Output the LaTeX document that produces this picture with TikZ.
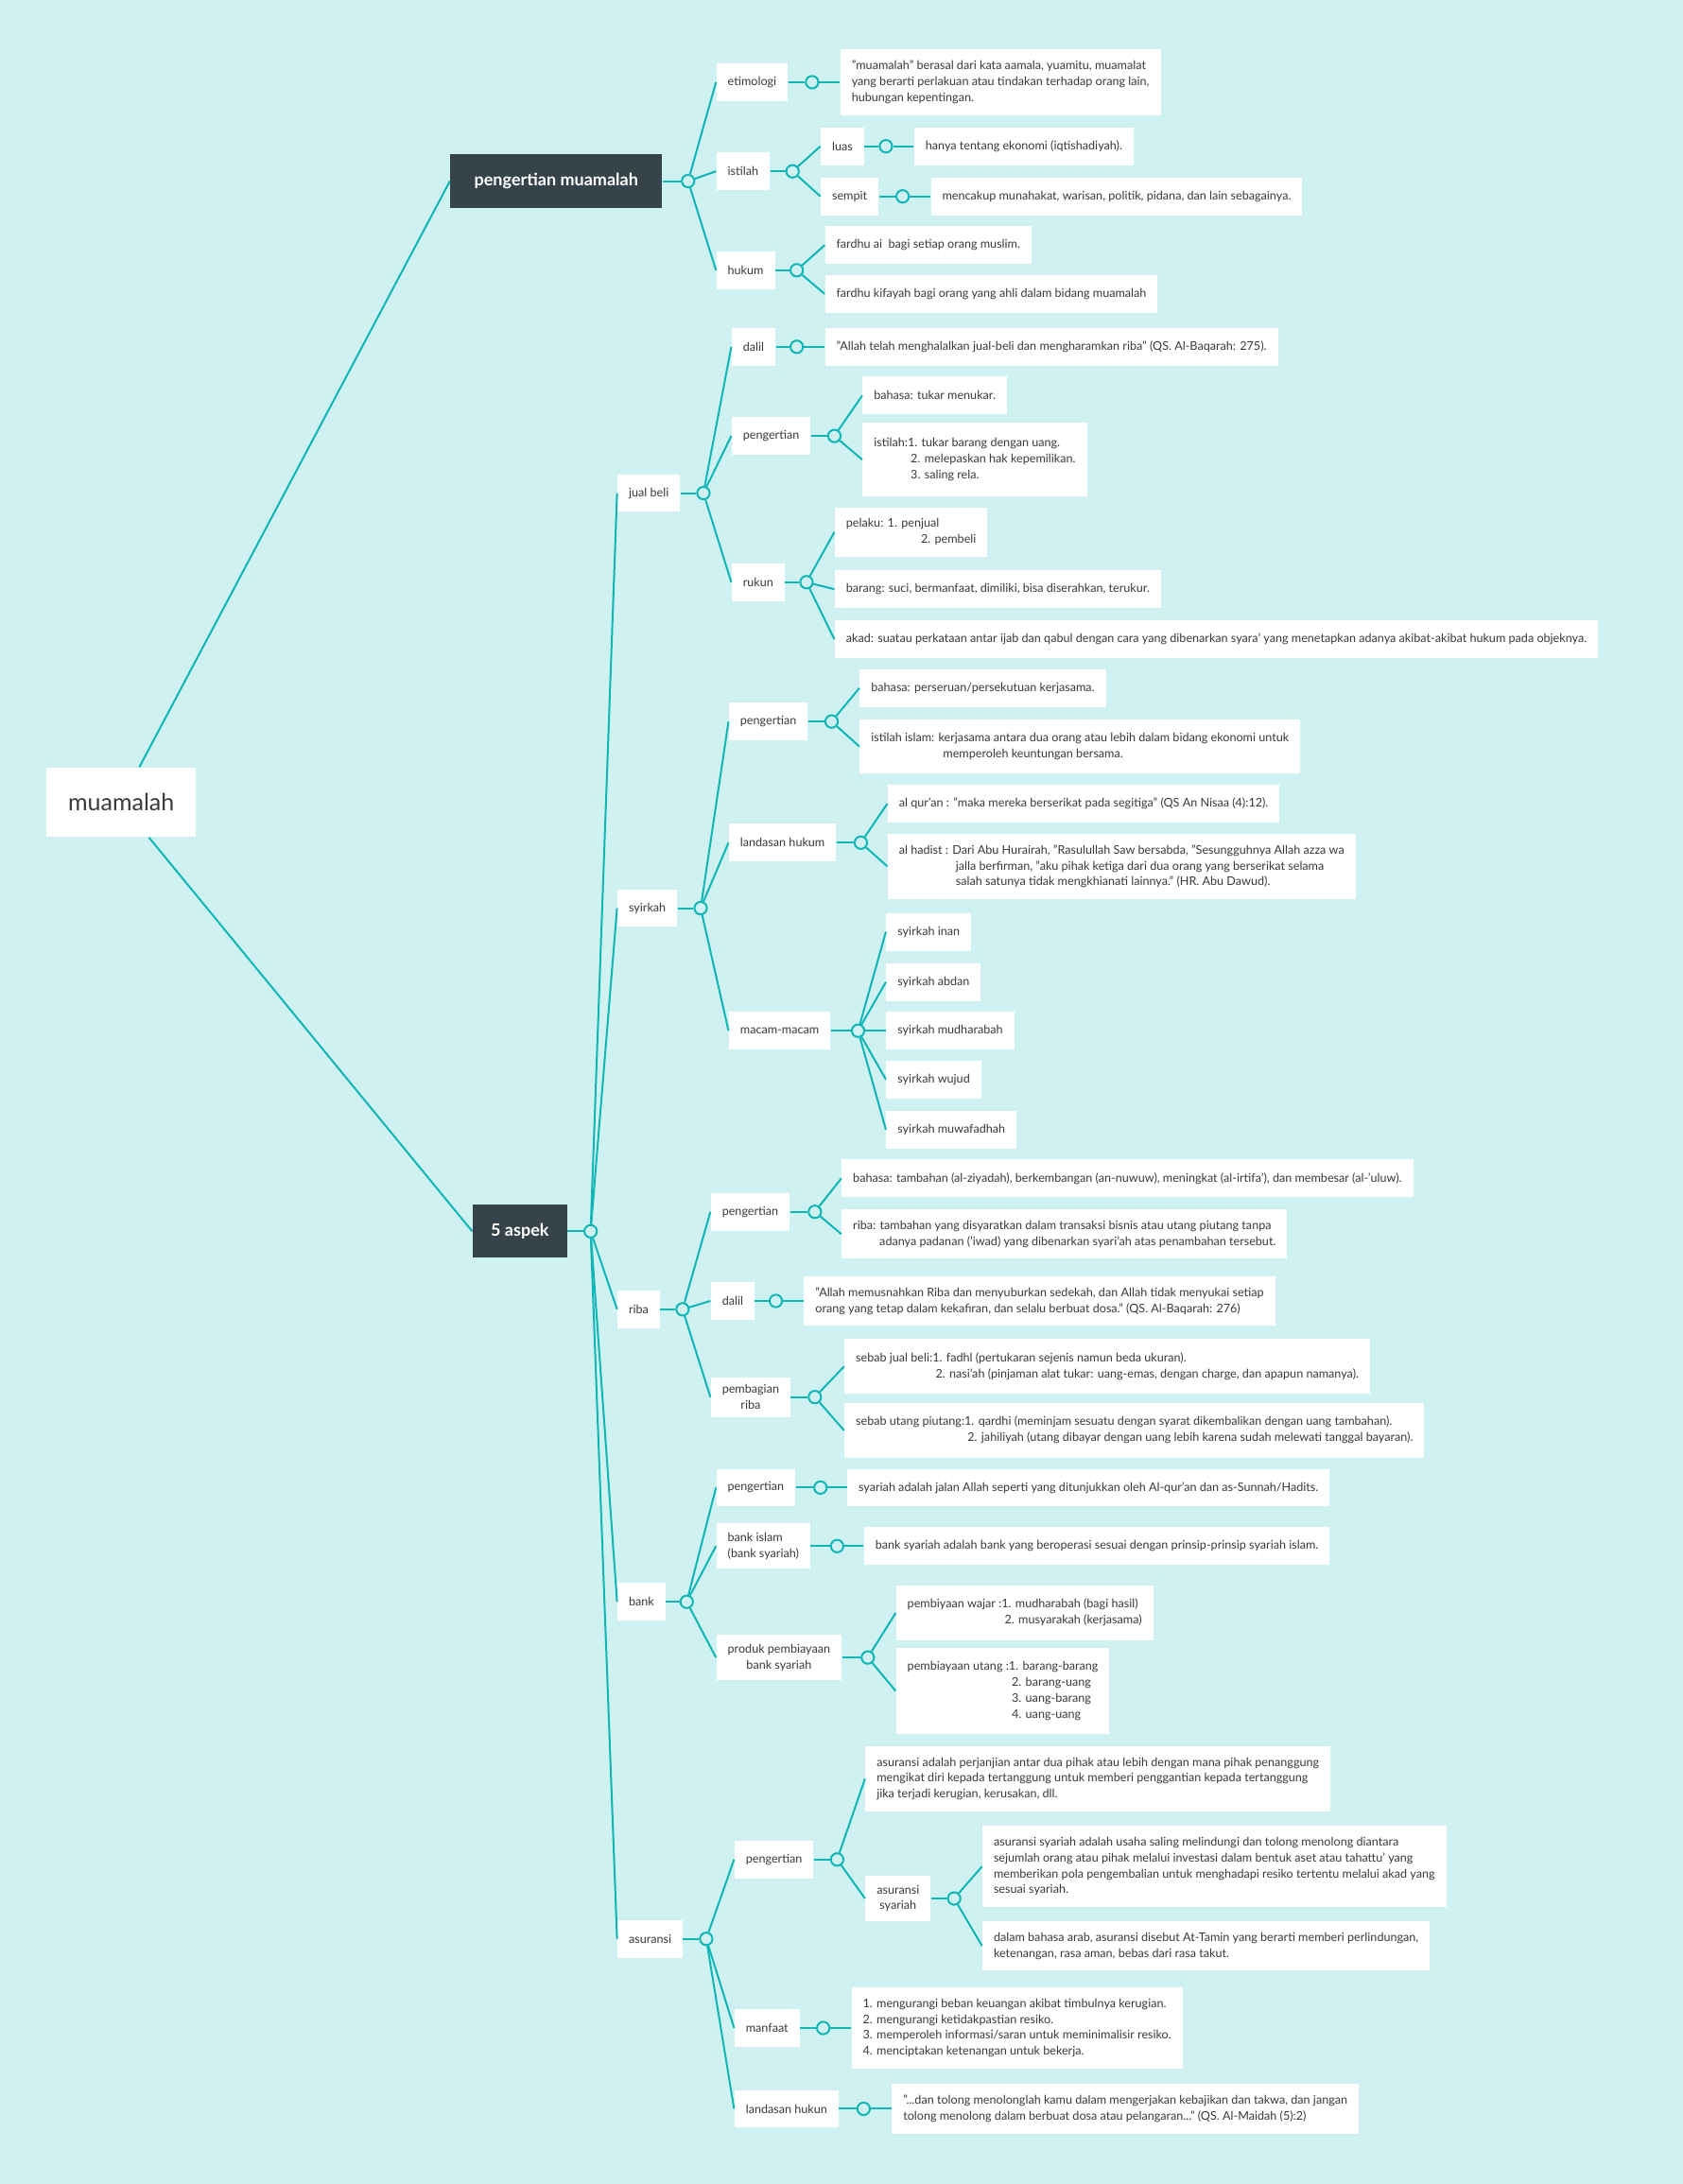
\documentclass[tikz,border=0pt]{standalone}
\usepackage{fontspec}
\setmainfont{Lato}
\definecolor{bg}{HTML}{CFF1F1}
\definecolor{ln}{HTML}{10B5B5}
\definecolor{dk}{HTML}{37434B}
\definecolor{tx}{HTML}{3A3A3A}
\tikzset{
 bx/.style={fill=white,text=tx,inner xsep=6pt,inner ysep=5pt,minimum height=19.9pt,align=left,anchor=west,font=\fontsize{6.3}{8.4}\selectfont},
 cc/.style={circle,draw=ln,line width=1pt,fill=bg,minimum size=6.6pt,inner sep=0pt},
 lk/.style={draw=ln,line width=1pt},
}
\newcommand\lnk[2]{\draw[lk] (#1) -- (#2.west);}
\newcommand\tb[2]{\begin{tabular}{@{}l@{}l@{}}#1&#2\end{tabular}}
\begin{document}
\begin{tikzpicture}[x=0.7364pt,y=-0.7364pt]
\fill[bg] (0,0) rectangle (1208,1568);
\useasboundingbox (0,0) rectangle (1208,1568);
% main
\node[fill=white,text=tx,minimum width=78.8pt,minimum height=36.8pt,font=\fontsize{12.5}{14}\selectfont] (root) at (87,576) {muamalah};
\node[fill=dk,text=white,minimum width=112pt,minimum height=28.7pt,anchor=west,font=\fontsize{9}{11}\selectfont\bfseries] (pm) at (323,130) {pengertian muamalah};
\node[fill=dk,text=white,minimum width=50pt,minimum height=28pt,anchor=west,font=\fontsize{9}{11}\selectfont\bfseries] (as) at (339,884) {5 aspek};
\draw[lk] ([xshift=9.6pt]root.north) -- (pm.west);
\draw[lk] ([xshift=14.7pt]root.south) -- (as.west);
\node[cc] (cpm) at (494,130) {}; \draw[lk] (pm.east) -- (cpm);
\node[cc] (cas) at (424,884) {}; \draw[lk] (as.east) -- (cas);
% pengertian muamalah
\node[bx] (et) at (514,59) {etimologi};
\node[bx] (is) at (514,123) {istilah};
\node[bx] (hk) at (514,194) {hukum};
\lnk{cpm}{et}\lnk{cpm}{is}\lnk{cpm}{hk}
\node[cc] (cet) at (583,59) {}; \draw[lk] (et.east)--(cet);
\node[bx,inner ysep=6pt] (et1) at (603,59) {"muamalah" berasal dari kata aamala, yuamitu, muamalat\\yang berarti perlakuan atau tindakan terhadap orang lain,\\hubungan kepentingan.};
\lnk{cet}{et1}
\node[cc] (cis) at (569,123) {}; \draw[lk] (is.east)--(cis);
\node[bx] (lu) at (589,105) {luas};
\node[bx] (se) at (589,141) {sempit};
\lnk{cis}{lu}\lnk{cis}{se}
\node[cc] (clu) at (636,105) {}; \draw[lk] (lu.east)--(clu);
\node[bx] (lu1) at (656,105) {hanya tentang ekonomi (iqtishadiyah).}; \lnk{clu}{lu1}
\node[cc] (cse) at (648,141) {}; \draw[lk] (se.east)--(cse);
\node[bx] (se1) at (668,141) {mencakup munahakat, warisan, politik, pidana, dan lain sebagainya.}; \lnk{cse}{se1}
\node[cc] (chk) at (572,194) {}; \draw[lk] (hk.east)--(chk);
\node[bx] (hk1) at (592,176) {fardhu ai\ \ bagi setiap orang muslim.};
\node[bx] (hk2) at (592,211) {fardhu kifayah bagi orang yang ahli dalam bidang muamalah};
\lnk{chk}{hk1}\lnk{chk}{hk2}
% aspects
\node[bx] (jb) at (443,354) {jual beli};
\node[bx] (sy) at (443,652) {syirkah};
\node[bx] (rb) at (443,940) {riba};
\node[bx] (bk) at (443,1150) {bank};
\node[bx] (au) at (443,1392) {asuransi};
\lnk{cas}{jb}\lnk{cas}{sy}\lnk{cas}{rb}\lnk{cas}{bk}\lnk{cas}{au}
% jual beli
\node[cc] (cjb) at (505,354) {}; \draw[lk] (jb.east)--(cjb);
\node[bx] (jd) at (525,249) {dalil};
\node[bx] (jp) at (525,313) {pengertian};
\node[bx] (jr) at (525,418) {rukun};
\lnk{cjb}{jd}\lnk{cjb}{jp}\lnk{cjb}{jr}
\node[cc] (cjd) at (572,249) {}; \draw[lk] (jd.east)--(cjd);
\node[bx] (jd1) at (592,249) {"Allah telah menghalalkan jual-beli dan mengharamkan riba" (QS. Al-Baqarah: 275).}; \lnk{cjd}{jd1}
\node[cc] (cjp) at (599,313) {}; \draw[lk] (jp.east)--(cjp);
\node[bx] (jp1) at (619,284) {bahasa: tukar menukar.};
\node[bx,inner ysep=7pt] (jp2) at (619,330) {\tb{istilah:~}{1. tukar barang dengan uang.}\\\tb{\phantom{istilah:~}}{2. melepaskan hak kepemilikan.}\\\tb{\phantom{istilah:~}}{3. saling rela.}};
\lnk{cjp}{jp1}\lnk{cjp}{jp2}
\node[cc] (cjr) at (579,418) {}; \draw[lk] (jr.east)--(cjr);
\node[bx,inner ysep=6pt] (jr1) at (599,382) {pelaku: 1. penjual\\\phantom{pelaku: 1. pen}2. pembeli};
\node[bx] (jr2) at (599,423) {barang: suci, bermanfaat, dimiliki, bisa diserahkan, terukur.};
\node[bx] (jr3) at (599,459) {akad: suatau perkataan antar ijab dan qabul dengan cara yang dibenarkan syara' yang menetapkan adanya akibat-akibat hukum pada objeknya.};
\lnk{cjr}{jr1}\lnk{cjr}{jr2}\lnk{cjr}{jr3}
% syirkah
\node[cc] (csy) at (503,652) {}; \draw[lk] (sy.east)--(csy);
\node[bx] (sp) at (523,518) {pengertian};
\node[bx] (sl) at (523,605) {landasan hukum};
\node[bx] (sm) at (523,740) {macam-macam};
\lnk{csy}{sp}\lnk{csy}{sl}\lnk{csy}{sm}
\node[cc] (csp) at (597,518) {}; \draw[lk] (sp.east)--(csp);
\node[bx] (sp1) at (617,494) {bahasa: perseruan/persekutuan kerjasama.};
\node[bx,inner ysep=7pt] (sp2) at (617,536) {istilah islam: kerjasama antara dua orang atau lebih dalam bidang ekonomi untuk\\\hspace*{38pt}memperoleh keuntungan bersama.};
\lnk{csp}{sp1}\lnk{csp}{sp2}
\node[cc] (csl) at (618,605) {}; \draw[lk] (sl.east)--(csl);
\node[bx] (sl1) at (637,577) {al qur'an : "maka mereka berserikat pada segitiga" (QS An Nisaa (4):12).};
\node[bx,inner ysep=6pt] (sl2) at (637,622) {al hadist : Dari Abu Hurairah, "Rasulullah Saw bersabda, "Sesungguhnya Allah azza wa\\\hspace*{30pt}jalla berfirman, "aku pihak ketiga dari dua orang yang berserikat selama\\\hspace*{30pt}salah satunya tidak mengkhianati lainnya." (HR. Abu Dawud).};
\lnk{csl}{sl1}\lnk{csl}{sl2}
\node[cc] (csm) at (616,740) {}; \draw[lk] (sm.east)--(csm);
\node[bx] (m1) at (636,669) {syirkah inan};
\node[bx] (m2) at (636,705) {syirkah abdan};
\node[bx] (m3) at (636,740) {syirkah mudharabah};
\node[bx] (m4) at (636,775) {syirkah wujud};
\node[bx] (m5) at (636,811) {syirkah muwafadhah};
\lnk{csm}{m1}\lnk{csm}{m2}\lnk{csm}{m3}\lnk{csm}{m4}\lnk{csm}{m5}
% riba
\node[cc] (crb) at (490,940) {}; \draw[lk] (rb.east)--(crb);
\node[bx] (rp) at (510,870) {pengertian};
\node[bx] (rd) at (510,934) {dalil};
\node[bx,align=center,inner ysep=4pt] (rpb) at (510,1003) {pembagian\\riba};
\lnk{crb}{rp}\lnk{crb}{rd}\lnk{crb}{rpb}
\node[cc] (crp) at (585,870) {}; \draw[lk] (rp.east)--(crp);
\node[bx] (rp1) at (604,846) {bahasa: tambahan (al-ziyadah), berkembangan (an-nuwuw), meningkat (al-irtifa'), dan membesar (al-'uluw).};
\node[bx,inner ysep=6pt] (rp2) at (604,886) {riba: tambahan yang disyaratkan dalam transaksi bisnis atau utang piutang tanpa\\\hspace*{14pt}adanya padanan ('iwad) yang dibenarkan syari'ah atas penambahan tersebut.};
\lnk{crp}{rp1}\lnk{crp}{rp2}
\node[cc] (crd) at (557,934) {}; \draw[lk] (rd.east)--(crd);
\node[bx,inner ysep=6pt] (rd1) at (577,934) {"Allah memusnahkan Riba dan menyuburkan sedekah, dan Allah tidak menyukai setiap\\orang yang tetap dalam kekafiran, dan selalu berbuat dosa." (QS. Al-Baqarah: 276)};
\lnk{crd}{rd1}
\node[cc] (crpb) at (585,1003) {}; \draw[lk] (rpb.east)--(crpb);
\node[bx,inner ysep=6pt] (rb1) at (606,981) {\tb{sebab jual beli:~}{1. fadhl (pertukaran sejenis namun beda ukuran).}\\\tb{\phantom{sebab jual beli:~}}{2. nasi'ah (pinjaman alat tukar: uang-emas, dengan charge, dan apapun namanya).}};
\node[bx,inner ysep=6pt] (rb2) at (606,1027) {\tb{sebab utang piutang:~}{1. qardhi (meminjam sesuatu dengan syarat dikembalikan dengan uang tambahan).}\\\tb{\phantom{sebab utang piutang:~}}{2. jahiliyah (utang dibayar dengan uang lebih karena sudah melewati tanggal bayaran).}};
\lnk{crpb}{rb1}\lnk{crpb}{rb2}
% bank
\node[cc] (cbk) at (493,1150) {}; \draw[lk] (bk.east)--(cbk);
\node[bx] (bp) at (514,1068) {pengertian};
\node[bx,inner ysep=5pt] (bi) at (514,1110) {bank islam\\(bank syariah)};
\node[bx,align=center,inner ysep=5pt] (bpr) at (514,1190) {produk pembiayaan\\bank syariah};
\lnk{cbk}{bp}\lnk{cbk}{bi}\lnk{cbk}{bpr}
\node[cc] (cbp) at (589,1068) {}; \draw[lk] (bp.east)--(cbp);
\node[bx] (bp1) at (608,1068) {syariah adalah jalan Allah seperti yang ditunjukkan oleh Al-qur'an dan as-Sunnah/Hadits.}; \lnk{cbp}{bp1}
\node[cc] (cbi) at (601,1110) {}; \draw[lk] (bi.east)--(cbi);
\node[bx] (bi1) at (620,1110) {bank syariah adalah bank yang beroperasi sesuai dengan prinsip-prinsip syariah islam.}; \lnk{cbi}{bi1}
\node[cc] (cbpr) at (623,1190) {}; \draw[lk] (bpr.east)--(cbpr);
\node[bx,inner ysep=6pt] (w1) at (643,1158) {\tb{pembiyaan wajar :~}{1. mudharabah (bagi hasil)}\\\tb{\phantom{pembiyaan wajar :~}}{2. musyarakah (kerjasama)}};
\node[bx,inner ysep=6pt] (w2) at (643,1214) {\tb{pembiayaan utang :~}{1. barang-barang}\\\tb{\phantom{pembiayaan utang :~}}{2. barang-uang}\\\tb{\phantom{pembiayaan utang :~}}{3. uang-barang}\\\tb{\phantom{pembiayaan utang :~}}{4. uang-uang}};
\lnk{cbpr}{w1}\lnk{cbpr}{w2}
% asuransi
\node[cc] (cau) at (507,1392) {}; \draw[lk] (au.east)--(cau);
\node[bx] (ap) at (527,1335) {pengertian};
\node[bx] (am) at (527,1456) {manfaat};
\node[bx] (al) at (527,1514) {landasan hukun};
\lnk{cau}{ap}\lnk{cau}{am}\lnk{cau}{al}
\node[cc] (cap) at (601,1335) {}; \draw[lk] (ap.east)--(cap);
\node[bx,inner ysep=6pt] (ap1) at (621,1277) {asuransi adalah perjanjian antar dua pihak atau lebih dengan mana pihak penanggung\\mengikat diri kepada tertanggung untuk memberi penggantian kepada tertanggung\\jika terjadi kerugian, kerusakan, dll.};
\node[bx,align=center,inner ysep=5pt] (as2) at (621,1363) {asuransi\\syariah};
\lnk{cap}{ap1}\lnk{cap}{as2}
\node[cc] (cas2) at (685,1363) {}; \draw[lk] (as2.east)--(cas2);
\node[bx,inner ysep=6pt] (s1) at (705,1340) {asuransi syariah adalah usaha saling melindungi dan tolong menolong diantara\\sejumlah orang atau pihak melalui investasi dalam bentuk aset atau tahattu' yang\\memberikan pola pengembalian untuk menghadapi resiko tertentu melalui akad yang\\sesuai syariah.};
\node[bx,inner ysep=6pt] (s2) at (705,1397) {dalam bahasa arab, asuransi disebut At-Tamin yang berarti memberi perlindungan,\\ketenangan, rasa aman, bebas dari rasa takut.};
\lnk{cas2}{s1}\lnk{cas2}{s2}
\node[cc] (cam) at (591,1456) {}; \draw[lk] (am.east)--(cam);
\node[bx,inner ysep=6pt] (am1) at (611,1456) {1. mengurangi beban keuangan akibat timbulnya kerugian.\\2. mengurangi ketidakpastian resiko.\\3. memperoleh informasi/saran untuk meminimalisir resiko.\\4. menciptakan ketenangan untuk bekerja.};
\lnk{cam}{am1}
\node[cc] (cal) at (620,1514) {}; \draw[lk] (al.east)--(cal);
\node[bx,inner ysep=6pt] (al1) at (640,1514) {"...dan tolong menolonglah kamu dalam mengerjakan kebajikan dan takwa, dan jangan\\tolong menolong dalam berbuat dosa atau pelangaran..." (QS. Al-Maidah (5):2)};
\lnk{cal}{al1}
\end{tikzpicture}
\end{document}
